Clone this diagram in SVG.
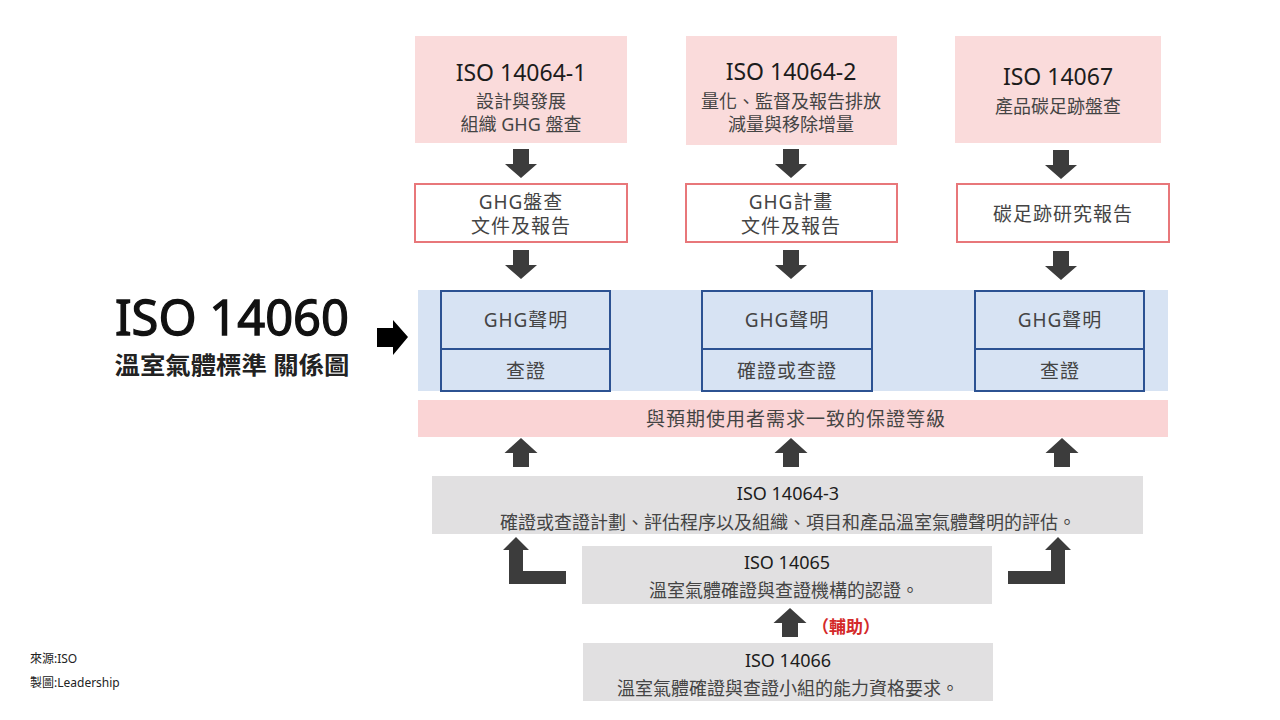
<svg xmlns="http://www.w3.org/2000/svg" xmlns:xlink="http://www.w3.org/1999/xlink" width="1280" height="720" viewBox="0 0 1280 720">
<defs>
<style>
text{font-family:"Noto Sans","Noto Sans CJK TC",sans-serif;dominant-baseline:central;text-anchor:middle}
.t{font-size:23px;fill:#1c1c1c}
.s{font-size:18px;fill:#444}
.m{font-size:19px;fill:#444;letter-spacing:1px}
.g{font-size:18px;fill:#1c1c1c}
.pinkbox{fill:#fadbdb}
.outbox{fill:#fff;stroke:#e8777a;stroke-width:2}
.bluebox{fill:none;stroke:#2c5292;stroke-width:2}
.gray{fill:#e1e0e1}
.arr{fill:#3c3c3c}
</style>
<path id="ad" d="M-8,0 H8 V15 H16 L0,29 L-16,15 H-8 Z"/>
<path id="au" d="M0,0 L16.5,15 H8 V29 H-8 V15 H-16.5 Z"/>
</defs>
<rect width="1280" height="720" fill="#fff"/>

<g id="title">
<text x="232" y="316" style="font-size:50px;fill:#111;stroke:#111;stroke-width:1.3" textLength="234" lengthAdjust="spacingAndGlyphs">ISO 14060</text>
<text x="232" y="364" style="font-size:24px;font-weight:bold;fill:#222" textLength="235" lengthAdjust="spacingAndGlyphs">溫室氣體標準 關係圖</text>
</g>

<g id="band-blue"><rect x="418" y="290" width="750" height="101" fill="#d7e3f3"/></g>

<g id="iso14064-1">
<rect class="pinkbox" x="415" y="36" width="212" height="107"/>
<text class="t" x="521" y="72">ISO 14064-1</text>
<text class="s" x="521" y="101">設計與發展</text>
<text class="s" x="521" y="124">組織 GHG 盤查</text>
</g>
<g id="iso14064-2">
<rect class="pinkbox" x="686" y="36" width="211" height="109"/>
<text class="t" x="791" y="71">ISO 14064-2</text>
<text class="s" x="791" y="101">量化、監督及報告排放</text>
<text class="s" x="791" y="124">減量與移除增量</text>
</g>
<g id="iso14067">
<rect class="pinkbox" x="955" y="36" width="206" height="107"/>
<text class="t" x="1058" y="76">ISO 14067</text>
<text class="s" x="1058" y="106">產品碳足跡盤查</text>
</g>

<g id="doc1">
<rect class="outbox" x="415" y="184" width="212" height="58"/>
<text class="m" x="521" y="202">GHG盤查</text>
<text class="m" x="521" y="226">文件及報告</text>
</g>
<g id="doc2">
<rect class="outbox" x="686" y="184" width="211" height="58"/>
<text class="m" x="791" y="202">GHG計畫</text>
<text class="m" x="791" y="226">文件及報告</text>
</g>
<g id="doc3">
<rect class="outbox" x="957" y="184" width="212" height="58"/>
<text class="m" x="1063" y="214">碳足跡研究報告</text>
</g>

<g id="claim1">
<rect class="bluebox" x="441" y="291" width="169" height="100"/>
<line class="bluebox" x1="441" y1="349" x2="610" y2="349"/>
<text class="m" x="526" y="320">GHG聲明</text>
<text class="m" x="526" y="371">查證</text>
</g>
<g id="claim2">
<rect class="bluebox" x="702" y="291" width="170" height="100"/>
<line class="bluebox" x1="702" y1="349" x2="872" y2="349"/>
<text class="m" x="787" y="320">GHG聲明</text>
<text class="m" x="787" y="371">確證或查證</text>
</g>
<g id="claim3">
<rect class="bluebox" x="975" y="291" width="169" height="100"/>
<line class="bluebox" x1="975" y1="349" x2="1144" y2="349"/>
<text class="m" x="1060" y="320">GHG聲明</text>
<text class="m" x="1060" y="371">查證</text>
</g>

<g id="assurance">
<rect x="418" y="400" width="750" height="37" fill="#fad4d5"/>
<text class="m" x="796" y="419">與預期使用者需求一致的保證等級</text>
</g>

<g id="iso14064-3">
<rect class="gray" x="432" y="476" width="711" height="58"/>
<text class="g" x="788" y="493">ISO 14064-3</text>
<text class="s" x="788" y="522">確證或查證計劃、評估程序以及組織、項目和產品溫室氣體聲明的評估。</text>
</g>
<g id="iso14065">
<rect class="gray" x="582" y="546" width="410" height="58"/>
<text class="g" x="787" y="562">ISO 14065</text>
<text class="s" x="784" y="590">溫室氣體確證與查證機構的認證。</text>
</g>
<g id="iso14066">
<rect class="gray" x="583" y="643" width="410" height="58"/>
<text class="g" x="788" y="660">ISO 14066</text>
<text class="s" x="788" y="688">溫室氣體確證與查證小組的能力資格要求。</text>
</g>

<g id="connectors">
<path d="M377,328 H393 V320 L408,337 L393,355 V347 H377 Z" fill="#000"/>
<use xlink:href="#ad" class="arr" x="521" y="149"/>
<use xlink:href="#ad" class="arr" x="791" y="149"/>
<use xlink:href="#ad" class="arr" x="1061" y="150"/>
<use xlink:href="#ad" class="arr" x="521" y="250"/>
<use xlink:href="#ad" class="arr" x="791" y="250"/>
<use xlink:href="#ad" class="arr" x="1061" y="251"/>
<use xlink:href="#au" class="arr" x="521" y="438"/>
<use xlink:href="#au" class="arr" x="791" y="438"/>
<use xlink:href="#au" class="arr" x="1062" y="438"/>
<path class="arr" d="M516,537 L529,550 H523 V571 H566 V584 H509 V550 H503 Z"/>
<path class="arr" d="M1058,537 L1071,550 H1065 V584 H1008 V571 H1051 V550 H1045 Z"/>
<use xlink:href="#au" class="arr" x="790" y="608"/>
<text x="846" y="626" style="font-size:17px;font-weight:bold;fill:#d42a2a" textLength="68" lengthAdjust="spacing">（輔助）</text>
</g>

<g id="footer">
<text x="30" y="658" style="font-size:12px;fill:#222;text-anchor:start">來源:ISO</text>
<text x="30" y="682" style="font-size:12px;fill:#222;text-anchor:start">製圖:Leadership</text>
</g>
</svg>
